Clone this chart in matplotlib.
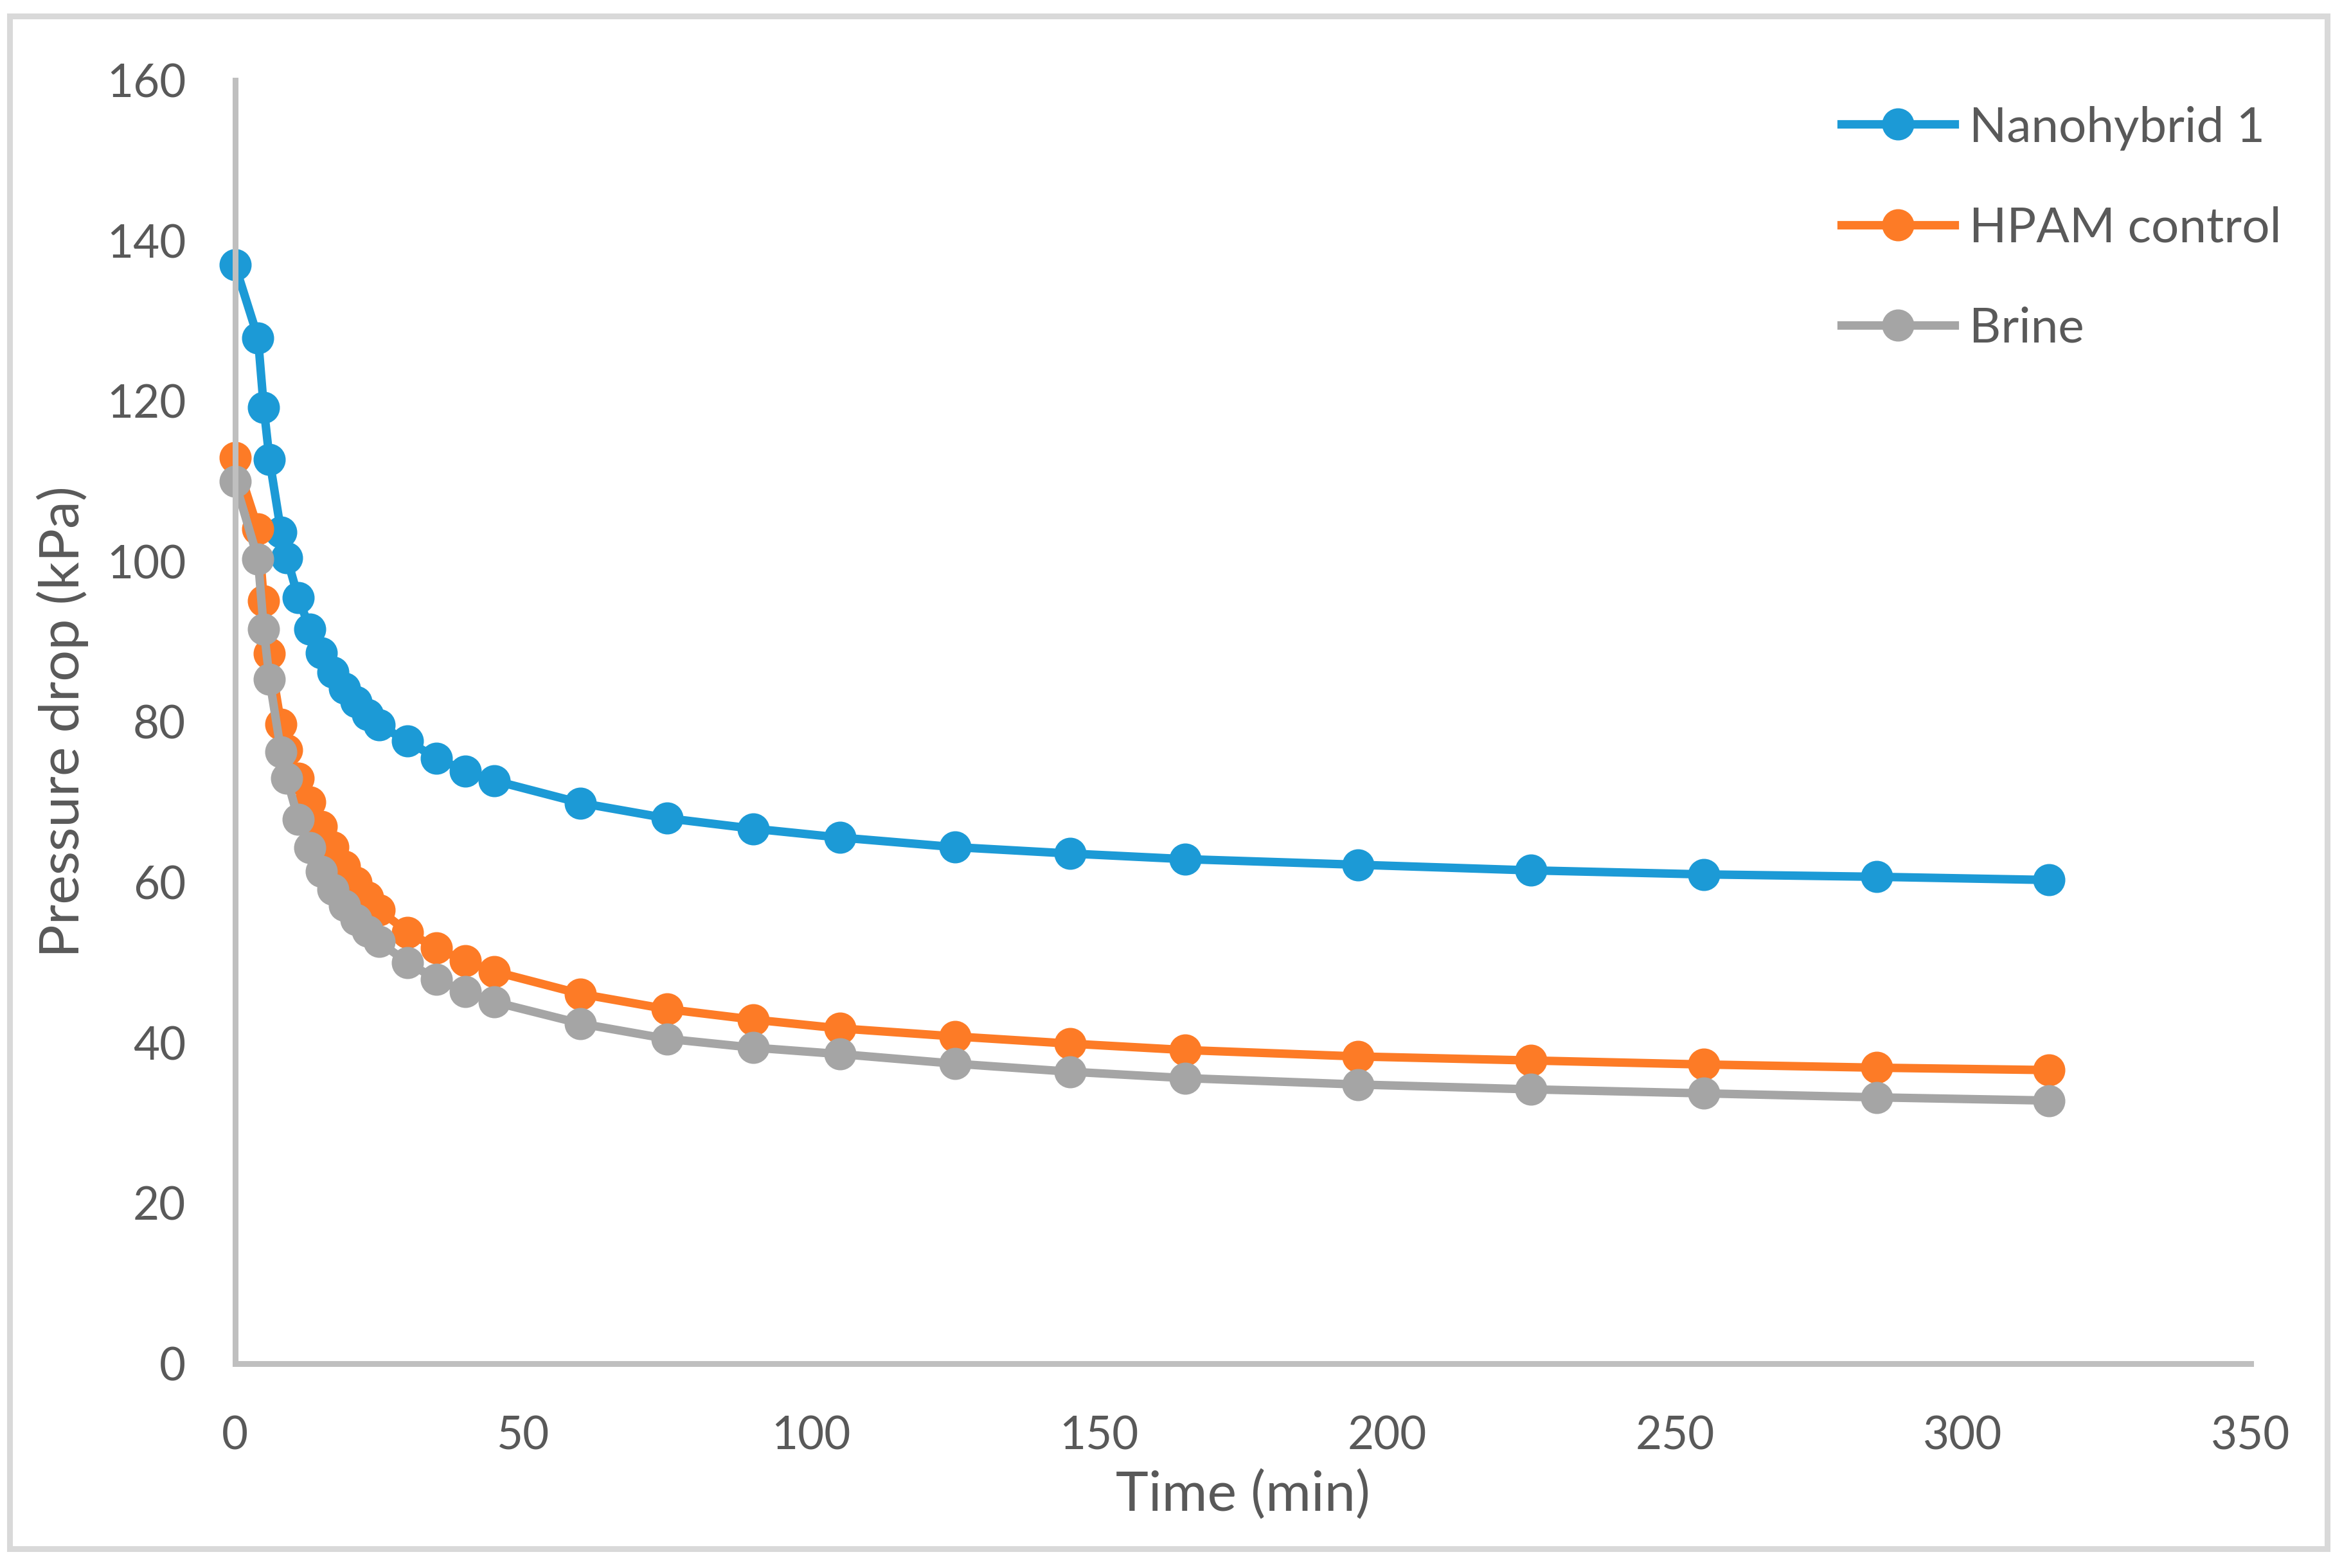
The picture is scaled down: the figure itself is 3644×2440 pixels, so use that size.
import matplotlib
matplotlib.use("Agg")
import matplotlib.pyplot as plt
from matplotlib.patches import Rectangle

plt.rcParams['font.family'] = ['Lato', 'DejaVu Sans']

# time points (min)
time_min = [0, 4, 5, 6, 8, 9, 11, 13, 15, 17, 19, 21, 23, 25, 30, 35, 40, 45,
            60, 75, 90, 105, 125, 145, 165, 195, 225, 255, 285, 315]

# pressure drop (kPa)
nanohybrid_1 = [137.0, 127.9, 119.2, 112.7, 103.7, 100.5, 95.5, 91.6, 88.6, 86.2,
                84.2, 82.5, 80.9, 79.6, 77.6, 75.5, 73.9, 72.7,
                69.9, 68.0, 66.7, 65.6, 64.4, 63.6, 62.9, 62.2, 61.5, 61.0, 60.7, 60.3]
hpam_control = [113.0, 104.1, 95.1, 88.5, 79.7, 76.5, 73.0, 70.0, 67.0, 64.4,
                62.0, 60.0, 58.2, 56.6, 53.8, 51.8, 50.2, 48.9,
                46.1, 44.2, 42.9, 41.8, 40.8, 39.9, 39.1, 38.3, 37.8, 37.3, 36.9, 36.6]
brine = [110.0, 100.3, 91.6, 85.3, 76.3, 73.0, 67.9, 64.3, 61.4, 59.1,
         57.1, 55.4, 53.9, 52.6, 50.0, 47.9, 46.4, 45.1,
         42.4, 40.5, 39.4, 38.6, 37.4, 36.4, 35.6, 34.8, 34.2, 33.7, 33.2, 32.8]

series = [("Nanohybrid 1", nanohybrid_1, '#1c9ad6'),
          ("HPAM control", hpam_control, '#fd7b26'),
          ("Brine", brine, '#a5a5a5')]

W, H = 3644, 2440
fig = plt.figure(figsize=(W / 100, H / 100), dpi=100)
ax = fig.add_axes([365.6 / W, 1 - 2122 / H, (3502 - 365.6) / W, (2122 - 125) / H])

for name, vals, col in series:
    ax.plot(time_min, vals, '-o', color=col, lw=9.5, ms=35, label=name, clip_on=False)

ax.set_xlim(0, 350)
ax.set_ylim(0, 160)
ax.set_xticks(range(0, 351, 50))
ax.set_yticks(range(0, 161, 20))

txt = '#595959'
ax.tick_params(length=0, labelsize=51, colors=txt)
ax.tick_params(axis='y', pad=55)
ax.tick_params(axis='x', pad=58)
for s in ['top', 'right']:
    ax.spines[s].set_visible(False)
for s in ['left', 'bottom']:
    ax.spines[s].set_color('#bfbfbf')
    ax.spines[s].set_linewidth(6.5)

ax.set_xlabel('Time (min)', fontsize=62, color=txt, labelpad=14)
ax.set_ylabel('Pressure drop (kPa)', fontsize=62, color=txt, labelpad=20)

fig.legend(loc='upper left', bbox_to_anchor=(2827 / W, 1 - 126 / H), frameon=False,
           fontsize=55, handlelength=2.3, handletextpad=0.3, labelspacing=1.14,
           borderpad=0, labelcolor=txt)

# outer chart border
fig.patches.append(Rectangle((15 / W, 1 - 2410 / H), (3621 - 15) / W, (2410 - 25) / H,
                             transform=fig.transFigure, fill=False,
                             edgecolor='#d9d9d9', lw=6.5))

fig.savefig('out.png', dpi=100)
